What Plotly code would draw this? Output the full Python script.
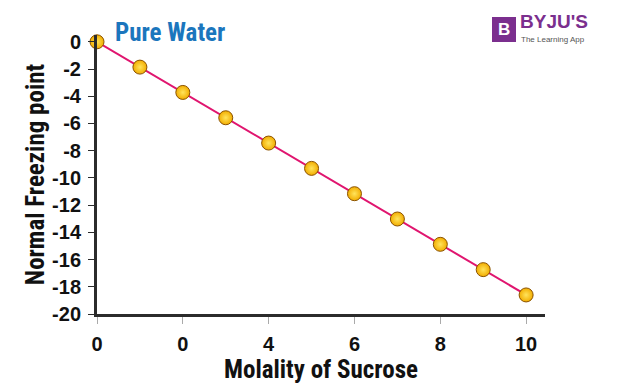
import plotly.graph_objects as go

molality = [0, 1, 2, 3, 4, 5, 6, 7, 8, 9, 10]
freezing_point = [0, -1.86, -3.72, -5.58, -7.44, -9.3, -11.16, -13.02, -14.88, -16.74, -18.6]
x_tick_vals = [0, 2, 4, 6, 8, 10]
x_tick_text = ["0", "0", "4", "6", "8", "10"]
y_tick_vals = [0, -2, -4, -6, -8, -10, -12, -14, -16, -18, -20]
y_tick_text = ["0", "-2", "-4", "-6", "-8", "-10", "-12", "-14", "-16", "-18", "-20"]

FONT = "Liberation Sans Narrow, Arial Narrow, Roboto Condensed, sans-serif"
TICKFONT = "Liberation Sans, Arial, sans-serif"
OFF = 8  # page body margin
FW, FH = 610, 376
L, T, W, H = 97 - OFF, 35 - OFF, 448, 279

def px(x):
    return (x - OFF - L) / W

def py(y):
    return (T + H - (y - OFF)) / H

fig = go.Figure()
fig.add_trace(go.Scatter(
    x=molality, y=freezing_point, mode="lines+markers",
    line=dict(color="#e0156f", width=2),
    marker=dict(size=14, color="#f2ad00",
                gradient=dict(type="radial", color="#ffe45c"),
                line=dict(color="#8a5200", width=1)),
    cliponaxis=False, showlegend=False,
))

fig.update_layout(
    width=FW, height=FH,
    margin=dict(l=L, r=FW - L - W, t=T, b=FH - T - H),
    paper_bgcolor="white", plot_bgcolor="white",
    font=dict(family=FONT, color="#111111"),
    xaxis=dict(range=[0, 10.44], showgrid=False, zeroline=False, automargin=False,
               showline=True, linecolor="#2b2b2b", linewidth=3,
               tickvals=x_tick_vals, ticktext=x_tick_text,
               ticks="outside", ticklen=7, tickcolor="#aaaaaa", tickwidth=1,
               ticklabelstandoff=3,
               tickfont=dict(size=20, family=TICKFONT, weight="bold"),
               title=dict(text="<b>Molality of Sucrose</b>", font=dict(size=25, family=FONT), standoff=12)),
    yaxis=dict(range=[-20, 0.5], showgrid=False, zeroline=False, automargin=False,
               showline=True, linecolor="#2b2b2b", linewidth=3,
               tickvals=y_tick_vals, ticktext=y_tick_text,
               ticks="outside", ticklen=6, tickcolor="#2b2b2b", tickwidth=1,
               ticklabelstandoff=3,
               tickfont=dict(size=20, family=TICKFONT, weight="bold"),
               title=dict(text="<b>Normal Freezing point</b>", font=dict(size=25, family=FONT), standoff=1)),
)

fig.add_annotation(text="<b>Pure Water</b>", xref="paper", yref="paper",
                   x=px(113), y=py(33), xanchor="left", yanchor="middle", showarrow=False,
                   font=dict(size=25, color="#1b76bd", family=FONT))

# Logo
fig.add_shape(type="rect", xref="paper", yref="paper",
              x0=px(492), x1=px(516), y0=py(42), y1=py(17),
              fillcolor="#7b2f8e", line=dict(width=0), layer="above")
fig.add_annotation(text="<b>B</b>", xref="paper", yref="paper",
                   x=px(504), y=py(29.5), xanchor="center", yanchor="middle", showarrow=False,
                   font=dict(size=17, color="white", family="Liberation Sans, Arial"))
fig.add_annotation(text="<b>BYJU'S</b>", xref="paper", yref="paper",
                   x=px(518), y=py(34), xanchor="left", yanchor="bottom", showarrow=False,
                   font=dict(size=19, color="#7b2f8e", family="Liberation Sans, Arial"))
fig.add_annotation(text="The Learning App", xref="paper", yref="paper",
                   x=px(519), y=py(33), xanchor="left", yanchor="top", showarrow=False,
                   font=dict(size=8, color="#555555", family="Liberation Sans, Arial"))

fig.write_html("out.html")
